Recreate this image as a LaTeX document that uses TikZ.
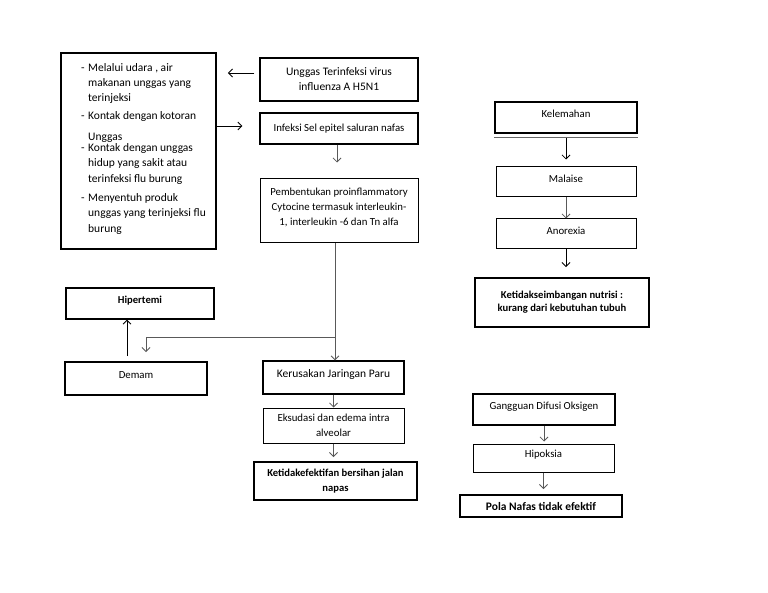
\documentclass[tikz,border=0pt]{standalone}
\usepackage{fontspec}
\setmainfont{Carlito}
\usetikzlibrary{arrows.meta}
\begin{document}
\begin{tikzpicture}[x=1pt,y=-1pt,
  box/.style={draw, rectangle, inner sep=0pt, align=center, line width=1pt,
    font=\fontsize{10.8}{15}\selectfont},
  thk/.style={line width=1.9pt},
  med/.style={line width=1.3pt},
  bf/.style={font=\fontsize{10.6}{15}\selectfont\bfseries},
  ln/.style={anchor=base west, inner sep=0pt, font=\fontsize{11.5}{15}\selectfont},
  arr/.style={-{Straight Barb[length=4pt,width=8pt]}, line width=0.8pt},
  garr/.style={arr, draw=black!65}]
\useasboundingbox (0,0) rectangle (768,593);
% left list box
\node[box, thk, minimum width=155, minimum height=196] (tl) at (138.5,151) {};
\node[ln] (d1) at (81,71.5) {-};
\node[ln] (l1) at (88,71.5) {Melalui udara , air};
\node[ln] (l2) at (88,86.5) {makanan unggas yang};
\node[ln] (l3) at (88,101.5) {terinjeksi};
\node[ln] (d2) at (81,119.5) {-};
\node[ln] (l4) at (88,119.5) {Kontak dengan kotoran};
\node[ln] (l5) at (88,140.5) {Unggas};
\node[ln] (d3) at (81,151.5) {-};
\node[ln] (l6) at (88,151.5) {Kontak dengan unggas};
\node[ln] (l7) at (88,166.5) {hidup yang sakit atau};
\node[ln] (l8) at (88,182.5) {terinfeksi flu burung};
\node[ln] (d4) at (81,201.5) {-};
\node[ln] (l9) at (88,201.5) {Menyentuh produk};
\node[ln] (l10) at (88,216.5) {unggas yang terinjeksi flu};
\node[ln] (l11) at (88,232.5) {burung};
% centre column
\node[box, med, font=\fontsize{11.5}{15}\selectfont, minimum width=158, minimum height=43] (unggas) at (339,79.5) {Unggas Terinfeksi virus\\influenza A H5N1};
\node[box, med, minimum width=158, minimum height=31] (infeksi) at (339,128.5) {Infeksi Sel epitel saluran nafas};
\node[box, minimum width=158, minimum height=64] (pemb) at (339,211) {Pembentukan proinflammatory\\Cytocine termasuk interleukin-\\1, interleukin -6 dan Tn alfa\\[-7pt]};
\node[box, med, bf, minimum width=148, minimum height=31] (hiper) at (140,303.5) {Hipertemi\\[-8pt]};
\node[box, thk, minimum width=142, minimum height=33] (demam) at (136,378.5) {Demam\\[-8pt]};
\node[box, med, font=\fontsize{11.5}{15}\selectfont, minimum width=141, minimum height=33] (kerus) at (333.5,377.5) {Kerusakan Jaringan Paru\\[-8pt]};
\node[box, minimum width=141, minimum height=35] (eksud) at (333.5,425.5) {Eksudasi dan edema intra\\alveolar};
\node[box, thk, bf, minimum width=163, minimum height=38] (ketef) at (335.5,481) {Ketidakefektifan bersihan jalan\\napas};
% right column
\node[box, thk, minimum width=142, minimum height=31] (kel) at (566,117.5) {Kelemahan\\[-8pt]};
\node[box, minimum width=140, minimum height=30] (mal) at (566,182) {Malaise\\[-8pt]};
\node[box, minimum width=140, minimum height=30] (ano) at (566,234) {Anorexia\\[-8pt]};
\node[box, thk, bf, minimum width=174, minimum height=49] (kseim) at (562,302.5) {Ketidakseimbangan nutrisi :\\[-2pt]kurang dari kebutuhan tubuh};
\node[box, thk, minimum width=142, minimum height=31] (gang) at (544,409.5) {Gangguan Difusi Oksigen\\[-8pt]};
\node[box, minimum width=141, minimum height=28] (hipok) at (543.5,458) {Hipoksia\\[-6pt]};
\node[box, thk, bf, font=\fontsize{11.5}{15}\selectfont\bfseries, minimum width=162, minimum height=22] (pola) at (541,506) {Pola Nafas tidak efektif};
% connectors
\coordinate (brk) at (0,337);
\draw[arr, shorten <=5pt, shorten >=11pt] ([yshift=6.5pt]unggas.west) -- ([yshift=6.5pt]unggas.west -| tl.east);
\draw[arr, shorten >=17pt] ([yshift=2.5pt]infeksi.west -| tl.east) -- ([yshift=2.5pt]infeksi.west);
\draw[garr, shorten >=16pt] ([xshift=-2pt]infeksi.south) -- ([xshift=-2pt]pemb.north);
\draw[garr] ([xshift=-4pt]pemb.south) -- ([xshift=-4pt]pemb.south |- kerus.north);
\draw[garr, shorten >=9pt] ([xshift=-4pt]pemb.south |- brk) -| ([xshift=10pt]demam.north);
\draw[arr, shorten <=5pt] ([xshift=-9pt]demam.north) -- ([xshift=-9pt]demam.north |- hiper.south);
\draw[garr] (kerus.south) -- (eksud.north);
\draw[garr, shorten >=4pt] (eksud.south) -- (eksud.south |- ketef.north);
\draw[black!60, line width=1pt] ([yshift=-4pt]kel.south west) -- ([yshift=-4pt]kel.south east);
\draw[arr, shorten <=4pt, shorten >=7pt] (kel.south) -- (mal.north);
\draw[garr] (mal.south) -- (ano.north);
\draw[arr, shorten >=10pt] (ano.south) -- (ano.south |- kseim.north);
\draw[garr, shorten >=2pt] (gang.south) -- (gang.south |- hipok.north);
\draw[garr, shorten >=5pt] (hipok.south) -- (hipok.south |- pola.north);
\end{tikzpicture}
\end{document}
